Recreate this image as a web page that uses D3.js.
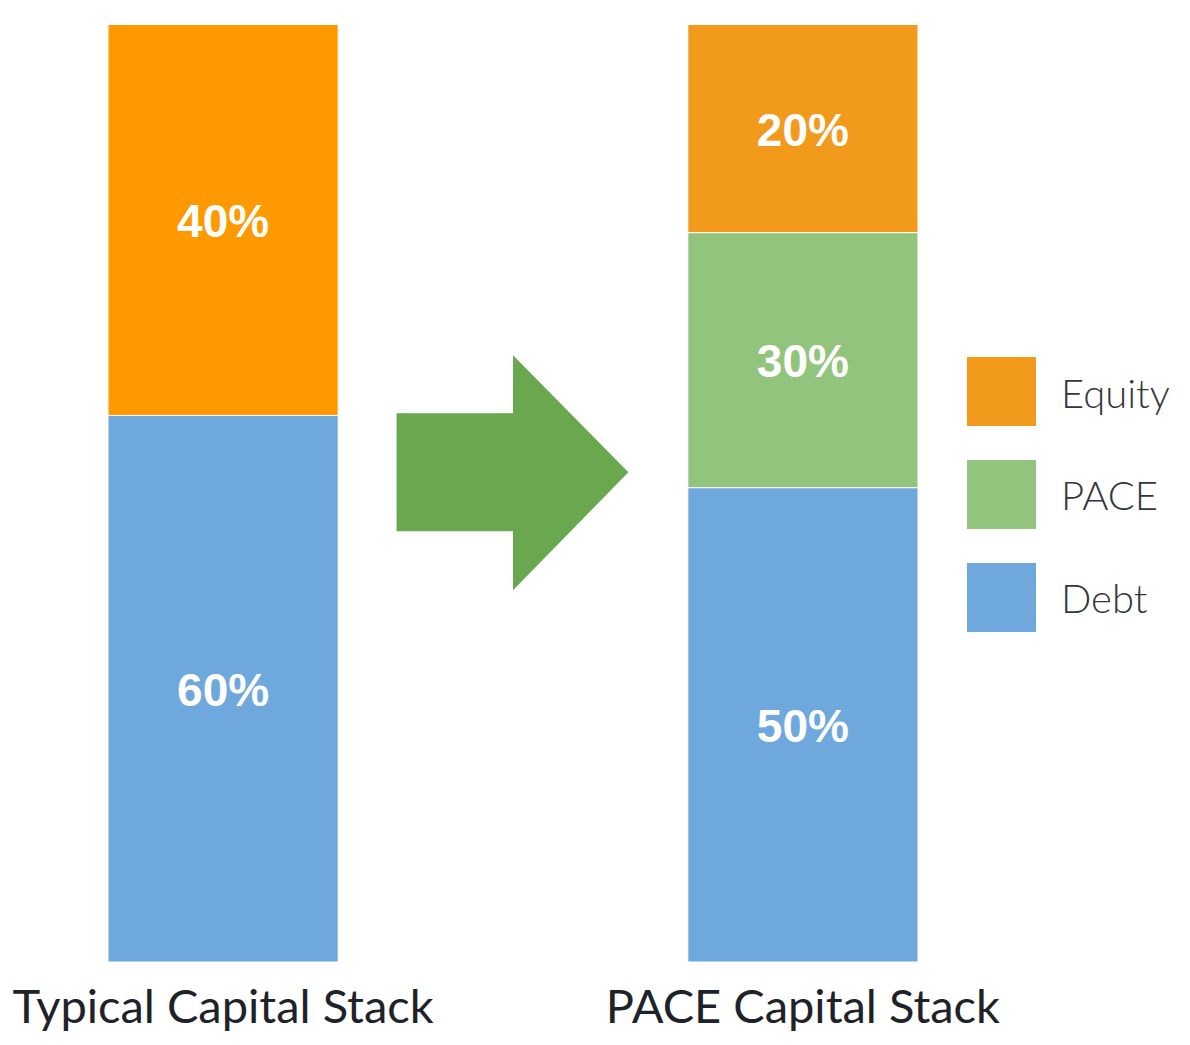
<!DOCTYPE html>
<html>
<head>
<meta charset="utf-8">
<script src="https://cdn.jsdelivr.net/npm/d3@7"></script>
<style>
  html, body { margin: 0; padding: 0; background: #fff; }
  svg { display: block; }
  .seg-label { font-family: "Liberation Sans", Arial, sans-serif; font-weight: bold; font-size: 46px; fill: #fff; }
  .stack-title { font-family: Lato, sans-serif; font-size: 47px; fill: #1e2329; }
  .legend-label { font-family: Lato, sans-serif; font-weight: 300; font-size: 40px; fill: #33373b; }
</style>
</head>
<body>
<div id="chart"></div>
<script>
// stacks, bottom segment first
var stacks = ['Typical Capital Stack', 'PACE Capital Stack'];
var typicalKeys = ['Debt', 'Equity'];
var typicalShares = [58.3, 41.7];     // drawn heights
var typicalLabels = ['60%', '40%'];
var paceKeys = ['Debt', 'PACE', 'Equity'];
var paceShares = [50.6, 27.2, 22.2];
var paceLabels = ['50%', '30%', '20%'];

var legendKeys = ['Equity', 'PACE', 'Debt'];

var width = 1190, height = 1045;

var colors = {
    'Typical Capital Stack': {Equity: '#ff9900', Debt: '#6fa8dc'},
    'PACE Capital Stack': {Equity: '#f19a1c', PACE: '#93c47d', Debt: '#6fa8dc'}
};
var legendColors = {Equity: '#f19a1c', PACE: '#93c47d', Debt: '#6fa8dc'};

var svg = d3.select('#chart').append('svg')
    .attr('width', width)
    .attr('height', height);

var x = d3.scaleBand()
    .domain(stacks)
    .range([108, 918])
    .paddingInner(0.603)
    .paddingOuter(0);

var y = d3.scaleLinear()
    .domain([0, 100])
    .range([962, 24.5]);

function buildSegments(name, keys, shares, labels) {
    var acc = 0;
    return keys.map(function(k, i) {
        var seg = {stack: name, key: k, y0: acc, y1: acc + shares[i], label: labels[i]};
        acc += shares[i];
        return seg;
    });
}

var segments = buildSegments(stacks[0], typicalKeys, typicalShares, typicalLabels)
    .concat(buildSegments(stacks[1], paceKeys, paceShares, paceLabels));

svg.selectAll('rect.seg')
    .data(segments)
    .enter().append('rect')
    .attr('class', 'seg')
    .attr('x', function(d) { return x(d.stack); })
    .attr('width', x.bandwidth())
    .attr('y', function(d) { return y(d.y1); })
    .attr('height', function(d) { return y(d.y0) - y(d.y1); })
    .style('fill', function(d) { return colors[d.stack][d.key]; })
    .style('stroke', '#fff')
    .style('stroke-width', 1);

svg.selectAll('text.seg-label')
    .data(segments)
    .enter().append('text')
    .attr('class', 'seg-label')
    .attr('text-anchor', 'middle')
    .attr('x', function(d) { return x(d.stack) + x.bandwidth() / 2; })
    .attr('y', function(d) { return y((d.y0 + d.y1) / 2) + 17; })
    .text(function(d) { return d.label; });

svg.selectAll('text.stack-title')
    .data(stacks)
    .enter().append('text')
    .attr('class', 'stack-title')
    .attr('text-anchor', 'middle')
    .attr('x', function(d) { return x(d) + x.bandwidth() / 2; })
    .attr('y', 1023)
    .text(function(d) { return d; });

// the big arrow between the two stacks
var gapLeft = x(stacks[0]) + x.bandwidth();
var gapRight = x(stacks[1]);
var ax = d3.scaleLinear().domain([0, 1]).range([gapLeft, gapRight]);
var mid = y(50) - 21;
var arrowPts = [
    [ax(0.167), mid - 59], [ax(0.50), mid - 59], [ax(0.50), mid - 117],
    [ax(0.83), mid], [ax(0.50), mid + 118], [ax(0.50), mid + 59], [ax(0.167), mid + 59]
];
svg.append('path')
    .attr('d', d3.line()(arrowPts) + 'Z')
    .style('fill', '#6aa84f');

// legend
var ly = d3.scaleBand()
    .domain(legendKeys)
    .range([357, 632])
    .paddingInner(0.33)
    .paddingOuter(0);

var legend = svg.selectAll('g.legend')
    .data(legendKeys)
    .enter().append('g')
    .attr('class', 'legend')
    .attr('transform', function(d) { return 'translate(967,' + ly(d) + ')'; });

legend.append('rect')
    .attr('width', 69)
    .attr('height', ly.bandwidth())
    .style('fill', function(d) { return legendColors[d]; });

legend.append('text')
    .attr('class', 'legend-label')
    .attr('x', 94)
    .attr('y', ly.bandwidth() / 2 + 16)
    .text(function(d) { return d; });
</script>
</body>
</html>
